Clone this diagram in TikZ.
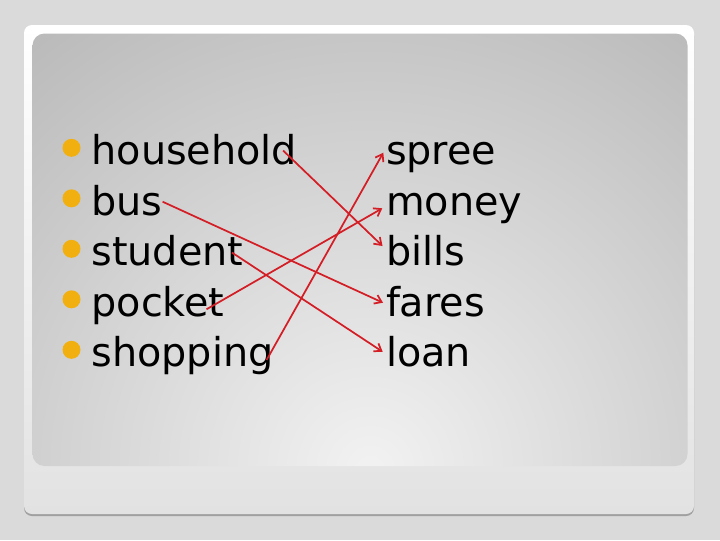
\documentclass[tikz,border=0pt]{standalone}
\usepackage{fontspec}
\setmainfont{DejaVu Sans}
\usetikzlibrary{arrows.meta}
\definecolor{pagebg}{RGB}{218,218,218}
\definecolor{cardbot}{RGB}{226,226,226}
\definecolor{shadowc}{RGB}{160,160,160}
\definecolor{panelin}{RGB}{242,242,242}
\definecolor{panelout}{RGB}{176,176,176}
\definecolor{bulletc}{RGB}{242,176,16}
\definecolor{linkred}{RGB}{212,30,38}
\tikzset{
  word/.style={anchor=base west, inner sep=0pt, outer sep=0pt, text=black,
    font=\fontsize{29.8}{35}\selectfont},
  dot/.style={circle, fill=bulletc, draw=none, minimum size=13.5pt, inner sep=0pt},
  link/.style={draw=linkred, line width=1.3pt,
    -{Straight Barb[length=5pt,width=7pt]}}
}
\begin{document}
\begin{tikzpicture}[x=0.75pt,y=-0.75pt]
\useasboundingbox (0,0) rectangle (720,540);
\fill[pagebg] (0,0) rectangle (720,540);
% card shadow and card
\fill[shadowc, rounded corners=6] (24,28) rectangle (694,516);
\shade[top color=white, bottom color=cardbot, rounded corners=6] (24,25) rectangle (694,514);
% inner panel with radial shading
\begin{scope}
  \clip[rounded corners=9] (32.5,33.5) rectangle (687.5,466);
  \shade[inner color=panelin, outer color=panelout] (370,470) circle (650);
\end{scope}
% left column
\foreach \w/\y in {household/164.8, bus/215.3, student/265.8, pocket/316.3, shopping/366.8}{
  \node[dot] (dot-\w) at (71.5,\y-17) {};
  \node[word] (\w) at (91.5,\y) {\w};
}
% right column
\foreach \w/\y in {spree/164.8, money/215.3, bills/265.8, fares/316.3, loan/366.8}{
  \node[word] (\w) at (386,\y) {\w};
}
% connectors
\draw[link] ([shift={(-14,-14.3)}]household.base east) -- ([shift={(-3.5,-19.8)}]bills.base west);
\draw[link] ([shift={(0,-13.6)}]bus.base east) -- ([shift={(-3,-13.6)}]fares.base west);
\draw[link] ([shift={(-11.5,-13.3)}]student.base east) -- ([shift={(-3.3,-15)}]loan.base west);
\draw[link] ([shift={(-18,-7)}]pocket.base east) -- ([shift={(-3.7,-7)}]money.base west);
\draw[link] ([shift={(-7,-6.8)}]shopping.base east) -- ([shift={(-2.7,-12.1)}]spree.base west);
\end{tikzpicture}
\end{document}
